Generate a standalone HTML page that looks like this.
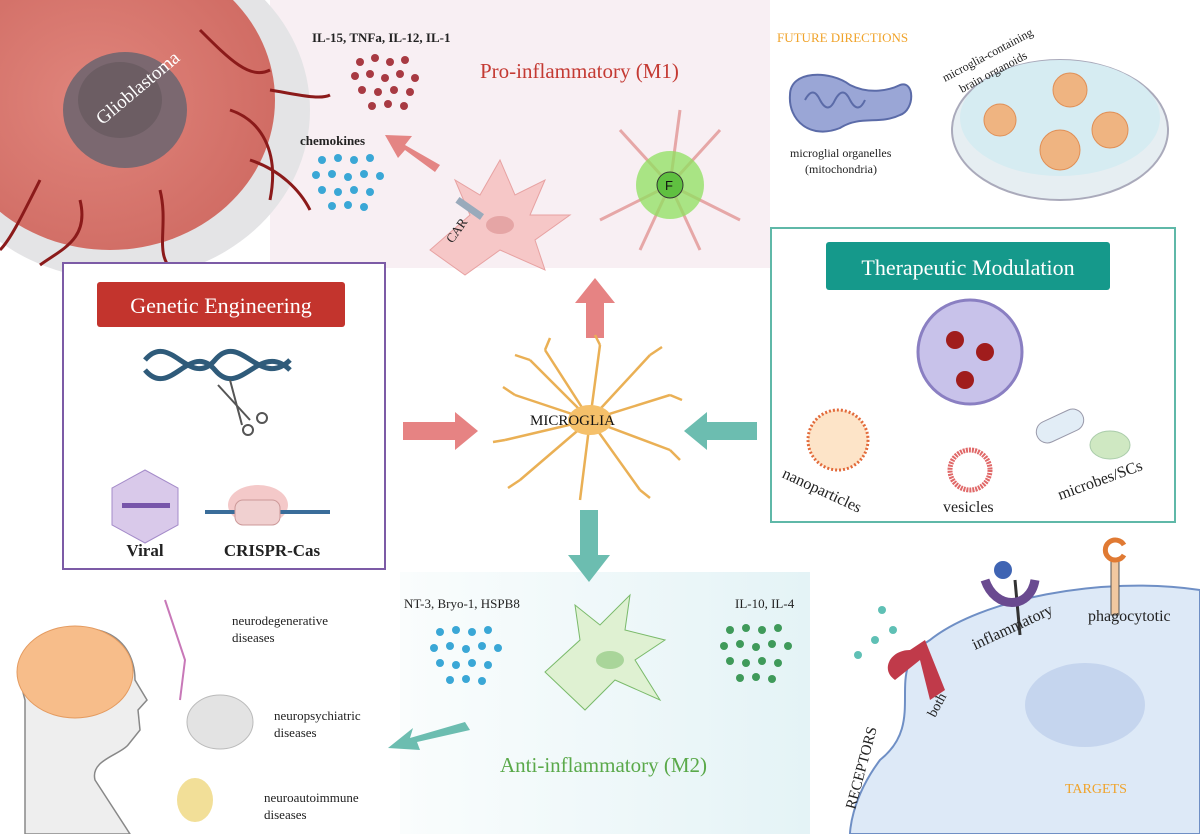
<!DOCTYPE html>
<html><head><meta charset="utf-8"><style>
html,body{margin:0;padding:0;background:#fff}
svg{display:block}
text{font-family:"Liberation Serif",serif}
</style></head><body>
<svg width="1200" height="834" viewBox="0 0 1200 834" xmlns="http://www.w3.org/2000/svg">
<defs>
<linearGradient id="m2" x1="0" x2="1"><stop offset="0" stop-color="#fafdfd"/><stop offset="1" stop-color="#e4f3f6"/></linearGradient>
<radialGradient id="gb" cx="0.45" cy="0.5" r="0.6"><stop offset="0" stop-color="#e0857c"/><stop offset="1" stop-color="#cf6a62"/></radialGradient>
</defs>
<!-- panels -->
<rect x="270" y="0" width="500" height="268" fill="#f8eff3"/>
<rect x="400" y="572" width="410" height="262" fill="url(#m2)"/>
<!-- glioblastoma -->
<ellipse cx="120" cy="110" rx="190" ry="170" fill="#e4e4e6"/>
<ellipse cx="110" cy="100" rx="165" ry="150" fill="url(#gb)"/>
<ellipse cx="125" cy="110" rx="62" ry="58" fill="#7b6870"/>
<ellipse cx="120" cy="100" rx="42" ry="38" fill="#6c5d63"/>
<g stroke="#8b1a1a" stroke-width="3" fill="none">
<path d="M200 30 C230 60 250 80 270 70"/><path d="M230 110 C260 120 280 150 270 200"/>
<path d="M160 190 C170 230 150 260 180 275"/><path d="M40 180 C20 220 10 240 0 250"/>
<path d="M80 200 C90 240 60 250 40 265"/><path d="M250 160 C280 170 300 190 310 210"/>
<path d="M270 90 C300 95 320 100 330 95"/>
</g>
<text x="75" y="110" fill="#fff" font-size="19" transform="rotate(-40 110 80)">Glioblastoma</text>
<!-- M1 -->
<text x="312" y="42" font-size="13" font-weight="bold" fill="#222">IL-15, TNFa, IL-12, IL-1</text>
<g fill="#a83a42">
<circle cx="360" cy="62" r="4"/><circle cx="375" cy="58" r="4"/><circle cx="390" cy="62" r="4"/><circle cx="405" cy="60" r="4"/>
<circle cx="355" cy="76" r="4"/><circle cx="370" cy="74" r="4"/><circle cx="385" cy="78" r="4"/><circle cx="400" cy="74" r="4"/><circle cx="415" cy="78" r="4"/>
<circle cx="362" cy="90" r="4"/><circle cx="378" cy="92" r="4"/><circle cx="394" cy="90" r="4"/><circle cx="410" cy="92" r="4"/>
<circle cx="372" cy="106" r="4"/><circle cx="388" cy="104" r="4"/><circle cx="404" cy="106" r="4"/>
</g>
<text x="300" y="145" font-size="13" font-weight="bold" fill="#222">chemokines</text>
<g fill="#3aa7d6">
<circle cx="322" cy="160" r="4"/><circle cx="338" cy="158" r="4"/><circle cx="354" cy="160" r="4"/><circle cx="370" cy="158" r="4"/>
<circle cx="316" cy="175" r="4"/><circle cx="332" cy="174" r="4"/><circle cx="348" cy="177" r="4"/><circle cx="364" cy="174" r="4"/><circle cx="380" cy="176" r="4"/>
<circle cx="322" cy="190" r="4"/><circle cx="338" cy="192" r="4"/><circle cx="354" cy="190" r="4"/><circle cx="370" cy="192" r="4"/>
<circle cx="332" cy="206" r="4"/><circle cx="348" cy="205" r="4"/><circle cx="364" cy="207" r="4"/>
</g>
<text x="480" y="78" font-size="21" fill="#c43a33">Pro-inflammatory (M1)</text>
<path d="M440 165 L405 145 L412 136 L385 135 L398 158 L405 150 L435 172Z" fill="#e48584"/>
<!-- pink CAR cell -->
<path d="M430 250 L470 215 L455 180 L480 195 L500 160 L515 195 L545 180 L530 215 L570 215 L535 240 L545 270 L500 250 L465 275Z" fill="#f6c7c7" stroke="#e7a2a2"/>
<ellipse cx="500" cy="225" rx="14" ry="9" fill="#e5a5a5"/>
<rect x="455" y="205" width="30" height="7" fill="#9ab" transform="rotate(35 470 208)"/>
<text x="440" y="240" font-size="13" fill="#222" transform="rotate(-55 450 230)">CAR</text>
<!-- F cell -->
<g stroke="#e6a7a7" stroke-width="3" fill="none">
<path d="M670 185 L620 130 M670 185 L720 130 M670 185 L600 220 M670 185 L740 220 M670 185 L680 110 M670 185 L640 250 M670 185 L700 250"/>
</g>
<circle cx="670" cy="185" r="34" fill="#8fe05f" opacity="0.75"/>
<circle cx="670" cy="185" r="13" fill="#5fc040" stroke="#333"/>
<text x="665" y="190" font-size="13" fill="#111" style="font-family:'Liberation Sans',sans-serif">F</text>
<!-- future directions -->
<text x="777" y="42" font-size="13" fill="#f0a32a">FUTURE DIRECTIONS</text>
<path d="M790 95 C790 70 830 70 850 85 C870 95 890 90 900 85 C915 80 915 110 900 115 C880 125 860 115 840 128 C810 140 788 120 790 95Z" fill="#9aa6d6" stroke="#5b6ba8" stroke-width="2"/>
<path d="M805 100 q8 -15 15 0 q8 15 15 0 q8 -15 15 0 q8 15 15 0" stroke="#5b6ba8" fill="none" stroke-width="2"/>
<text x="790" y="157" font-size="12" fill="#222">microglial organelles</text>
<text x="805" y="173" font-size="12" fill="#222">(mitochondria)</text>
<ellipse cx="1060" cy="130" rx="108" ry="70" fill="#e6eef2" stroke="#aab" stroke-width="2"/>
<ellipse cx="1060" cy="118" rx="100" ry="58" fill="#d6ecf2"/>
<g fill="#efb481" stroke="#e08f56">
<circle cx="1000" cy="120" r="16"/><circle cx="1070" cy="90" r="17"/><circle cx="1060" cy="150" r="20"/><circle cx="1110" cy="130" r="18"/>
</g>
<text x="945" y="82" font-size="12" fill="#222" transform="rotate(-28 945 82)">microglia-containing</text>
<text x="962" y="93" font-size="12" fill="#222" transform="rotate(-28 962 93)">brain organoids</text>
<!-- genetic engineering box -->
<rect x="63" y="263" width="322" height="306" fill="#fff" stroke="#7c5ba6" stroke-width="2"/>
<rect x="97" y="282" width="248" height="45" fill="#c3342d" rx="3"/>
<text x="221" y="313" font-size="22" fill="#fff" text-anchor="middle">Genetic Engineering</text>
<path d="M145 360 C170 330 190 390 215 360 C240 330 260 390 290 360" stroke="#2f5b7a" stroke-width="5" fill="none"/>
<path d="M145 370 C170 400 190 340 215 370 C240 400 260 340 290 370" stroke="#2f5b7a" stroke-width="5" fill="none"/>
<path d="M218 385 L250 420" stroke="#555" stroke-width="2"/><path d="M230 380 L242 425" stroke="#555" stroke-width="2"/>
<circle cx="248" cy="430" r="5" fill="none" stroke="#555" stroke-width="2"/><circle cx="262" cy="418" r="5" fill="none" stroke="#555" stroke-width="2"/>
<polygon points="145,470 178,488 178,525 145,543 112,525 112,488" fill="#d9c9ea" stroke="#a48bc9"/>
<rect x="122" y="503" width="48" height="5" fill="#7755aa"/>
<text x="145" y="556" font-size="17" font-weight="bold" fill="#222" text-anchor="middle">Viral</text>
<ellipse cx="258" cy="505" rx="30" ry="20" fill="#f4c9c9"/>
<path d="M205 512 L330 512" stroke="#3a6d9a" stroke-width="4"/>
<rect x="235" y="500" width="45" height="25" rx="8" fill="#f0d0d0" stroke="#c99"/>
<text x="272" y="556" font-size="17" font-weight="bold" fill="#222" text-anchor="middle">CRISPR-Cas</text>
<!-- therapeutic box -->
<rect x="771" y="228" width="404" height="294" fill="#fff" stroke="#5fb8a8" stroke-width="2"/>
<rect x="826" y="242" width="284" height="48" fill="#15998b" rx="3"/>
<text x="968" y="275" font-size="22" fill="#fff" text-anchor="middle">Therapeutic Modulation</text>
<circle cx="970" cy="352" r="52" fill="#c8c2ea" stroke="#8a7fc2" stroke-width="3"/>
<g fill="#a01c1c"><circle cx="955" cy="340" r="9"/><circle cx="985" cy="352" r="9"/><circle cx="965" cy="380" r="9"/></g>
<circle cx="838" cy="440" r="30" fill="#fde4c8" stroke="#e26a3a" stroke-width="3" stroke-dasharray="2 2"/>
<text x="785" y="480" font-size="16" fill="#222" transform="rotate(25 790 470)">nanoparticles</text>
<circle cx="970" cy="470" r="20" fill="none" stroke="#e06868" stroke-width="5" stroke-dasharray="2 1"/>
<text x="943" y="512" font-size="16" fill="#222">vesicles</text>
<rect x="1035" y="415" width="50" height="22" rx="11" fill="#e2edf6" stroke="#99a" transform="rotate(-25 1060 426)"/>
<ellipse cx="1110" cy="445" rx="20" ry="14" fill="#cfe8c2" stroke="#aaccaa"/>
<text x="1060" y="500" font-size="16" fill="#222" transform="rotate(-20 1060 500)">microbes/SCs</text>
<!-- arrows -->
<path d="M595 278 L615 303 L604 303 L604 338 L586 338 L586 303 L575 303Z" fill="#e68383"/>
<path d="M403 422 L455 422 L455 412 L478 431 L455 450 L455 440 L403 440Z" fill="#e68383"/>
<path d="M757 422 L707 422 L707 412 L684 431 L707 450 L707 440 L757 440Z" fill="#6cbdb0"/>
<path d="M580 510 L598 510 L598 555 L610 555 L589 582 L568 555 L580 555Z" fill="#6cbdb0"/>
<path d="M465 722 L410 738 L413 728 L388 748 L420 750 L417 742 L470 730Z" fill="#6cbdb0"/>
<!-- microglia -->
<g stroke="#eab055" stroke-width="2.5" fill="none">
<path d="M590 420 L530 360 M590 420 L545 350 M590 420 L600 345 M590 420 L650 355 M590 420 L670 395 M590 420 L670 450 M590 420 L640 490 M590 420 L580 500 M590 420 L520 480 M590 420 L505 440 M590 420 L515 395"/>
<path d="M530 360 l-15 -5 M545 350 l5 -12 M650 355 l12 -8 M670 395 l12 5 M670 450 l10 10 M640 490 l10 8 M520 480 l-12 8 M505 440 l-12 2 M515 395 l-12 -8 M600 345 l-5 -10"/>
</g>
<ellipse cx="590" cy="420" rx="22" ry="15" fill="#f5c06a"/>
<text x="530" y="425" font-size="15" fill="#111">MICROGLIA</text>
<!-- M2 -->
<text x="404" y="608" font-size="13" fill="#222">NT-3, Bryo-1, HSPB8</text>
<g fill="#3aa7d6">
<circle cx="440" cy="632" r="4"/><circle cx="456" cy="630" r="4"/><circle cx="472" cy="632" r="4"/><circle cx="488" cy="630" r="4"/>
<circle cx="434" cy="648" r="4"/><circle cx="450" cy="646" r="4"/><circle cx="466" cy="649" r="4"/><circle cx="482" cy="646" r="4"/><circle cx="498" cy="648" r="4"/>
<circle cx="440" cy="663" r="4"/><circle cx="456" cy="665" r="4"/><circle cx="472" cy="663" r="4"/><circle cx="488" cy="665" r="4"/>
<circle cx="450" cy="680" r="4"/><circle cx="466" cy="679" r="4"/><circle cx="482" cy="681" r="4"/>
</g>
<path d="M545 672 L580 640 L575 605 L600 625 L630 595 L625 630 L665 640 L635 660 L660 700 L615 680 L585 710Z" fill="#dff1d2" stroke="#7aba6a"/>
<ellipse cx="610" cy="660" rx="14" ry="9" fill="#a9d59a"/>
<text x="735" y="608" font-size="13" fill="#222">IL-10, IL-4</text>
<g fill="#3f9a5a">
<circle cx="730" cy="630" r="4"/><circle cx="746" cy="628" r="4"/><circle cx="762" cy="630" r="4"/><circle cx="778" cy="628" r="4"/>
<circle cx="724" cy="646" r="4"/><circle cx="740" cy="644" r="4"/><circle cx="756" cy="647" r="4"/><circle cx="772" cy="644" r="4"/><circle cx="788" cy="646" r="4"/>
<circle cx="730" cy="661" r="4"/><circle cx="746" cy="663" r="4"/><circle cx="762" cy="661" r="4"/><circle cx="778" cy="663" r="4"/>
<circle cx="740" cy="678" r="4"/><circle cx="756" cy="677" r="4"/><circle cx="772" cy="679" r="4"/>
</g>
<text x="500" y="772" font-size="21" fill="#5aa94a">Anti-inflammatory (M2)</text>
<!-- head -->
<path d="M25 834 L25 700 C10 650 40 630 80 628 C125 628 135 660 135 680 L147 700 L138 710 L140 730 L128 745 C120 755 90 760 95 780 L130 834Z" fill="#eeeeee" stroke="#888" stroke-width="1.5"/>
<ellipse cx="75" cy="672" rx="58" ry="46" fill="#f7bd8a" stroke="#e49b60"/>
<path d="M165 600 L185 660 L180 700" stroke="#c878b8" stroke-width="2" fill="none"/>
<text x="232" y="625" font-size="13" fill="#222">neurodegenerative</text><text x="232" y="642" font-size="13" fill="#222">diseases</text>
<ellipse cx="220" cy="722" rx="33" ry="27" fill="#e3e3e3" stroke="#bbb"/>
<text x="274" y="720" font-size="13" fill="#222">neuropsychiatric</text><text x="274" y="737" font-size="13" fill="#222">diseases</text>
<ellipse cx="195" cy="800" rx="18" ry="22" fill="#f2df98"/>
<text x="264" y="802" font-size="13" fill="#222">neuroautoimmune</text><text x="264" y="819" font-size="13" fill="#222">diseases</text>
<!-- target cell -->
<path d="M1200 590 C1100 575 980 600 930 640 C880 670 930 720 880 760 C850 800 850 834 850 834 L1200 834Z" fill="#dde9f7" stroke="#6f8fc5" stroke-width="2"/>
<ellipse cx="1085" cy="705" rx="60" ry="42" fill="#c5d5ee"/>
<path d="M1020 635 L1015 580" stroke="#333" stroke-width="3"/>
<path d="M985 580 C995 610 1030 610 1035 580" stroke="#6a4a90" stroke-width="9" fill="none"/>
<circle cx="1003" cy="570" r="9" fill="#3f64b3"/>
<rect x="1111" y="560" width="8" height="55" fill="#f1c8a0" stroke="#555"/>
<path d="M1124 545 a10 10 0 1 0 0 10" stroke="#e07a33" stroke-width="5" fill="none"/>
<path d="M910 650 C890 650 880 670 895 680 L920 660 L930 700 L945 690 L925 640Z" fill="#c03a4a"/>
<g fill="#5fc0b5"><circle cx="882" cy="610" r="4"/><circle cx="893" cy="630" r="4"/><circle cx="858" cy="655" r="4"/><circle cx="875" cy="640" r="4"/></g>
<text x="975" y="650" font-size="16" fill="#222" transform="rotate(-25 975 650)">inflammatory</text>
<text x="1088" y="621" font-size="16" fill="#222">phagocytotic</text>
<text x="935" y="718" font-size="14" fill="#222" transform="rotate(-62 935 718)">both</text>
<text x="855" y="810" font-size="15" fill="#222" transform="rotate(-75 855 810)">RECEPTORS</text>
<text x="1065" y="793" font-size="14" fill="#f0a32a">TARGETS</text>
</svg>
</body></html>
